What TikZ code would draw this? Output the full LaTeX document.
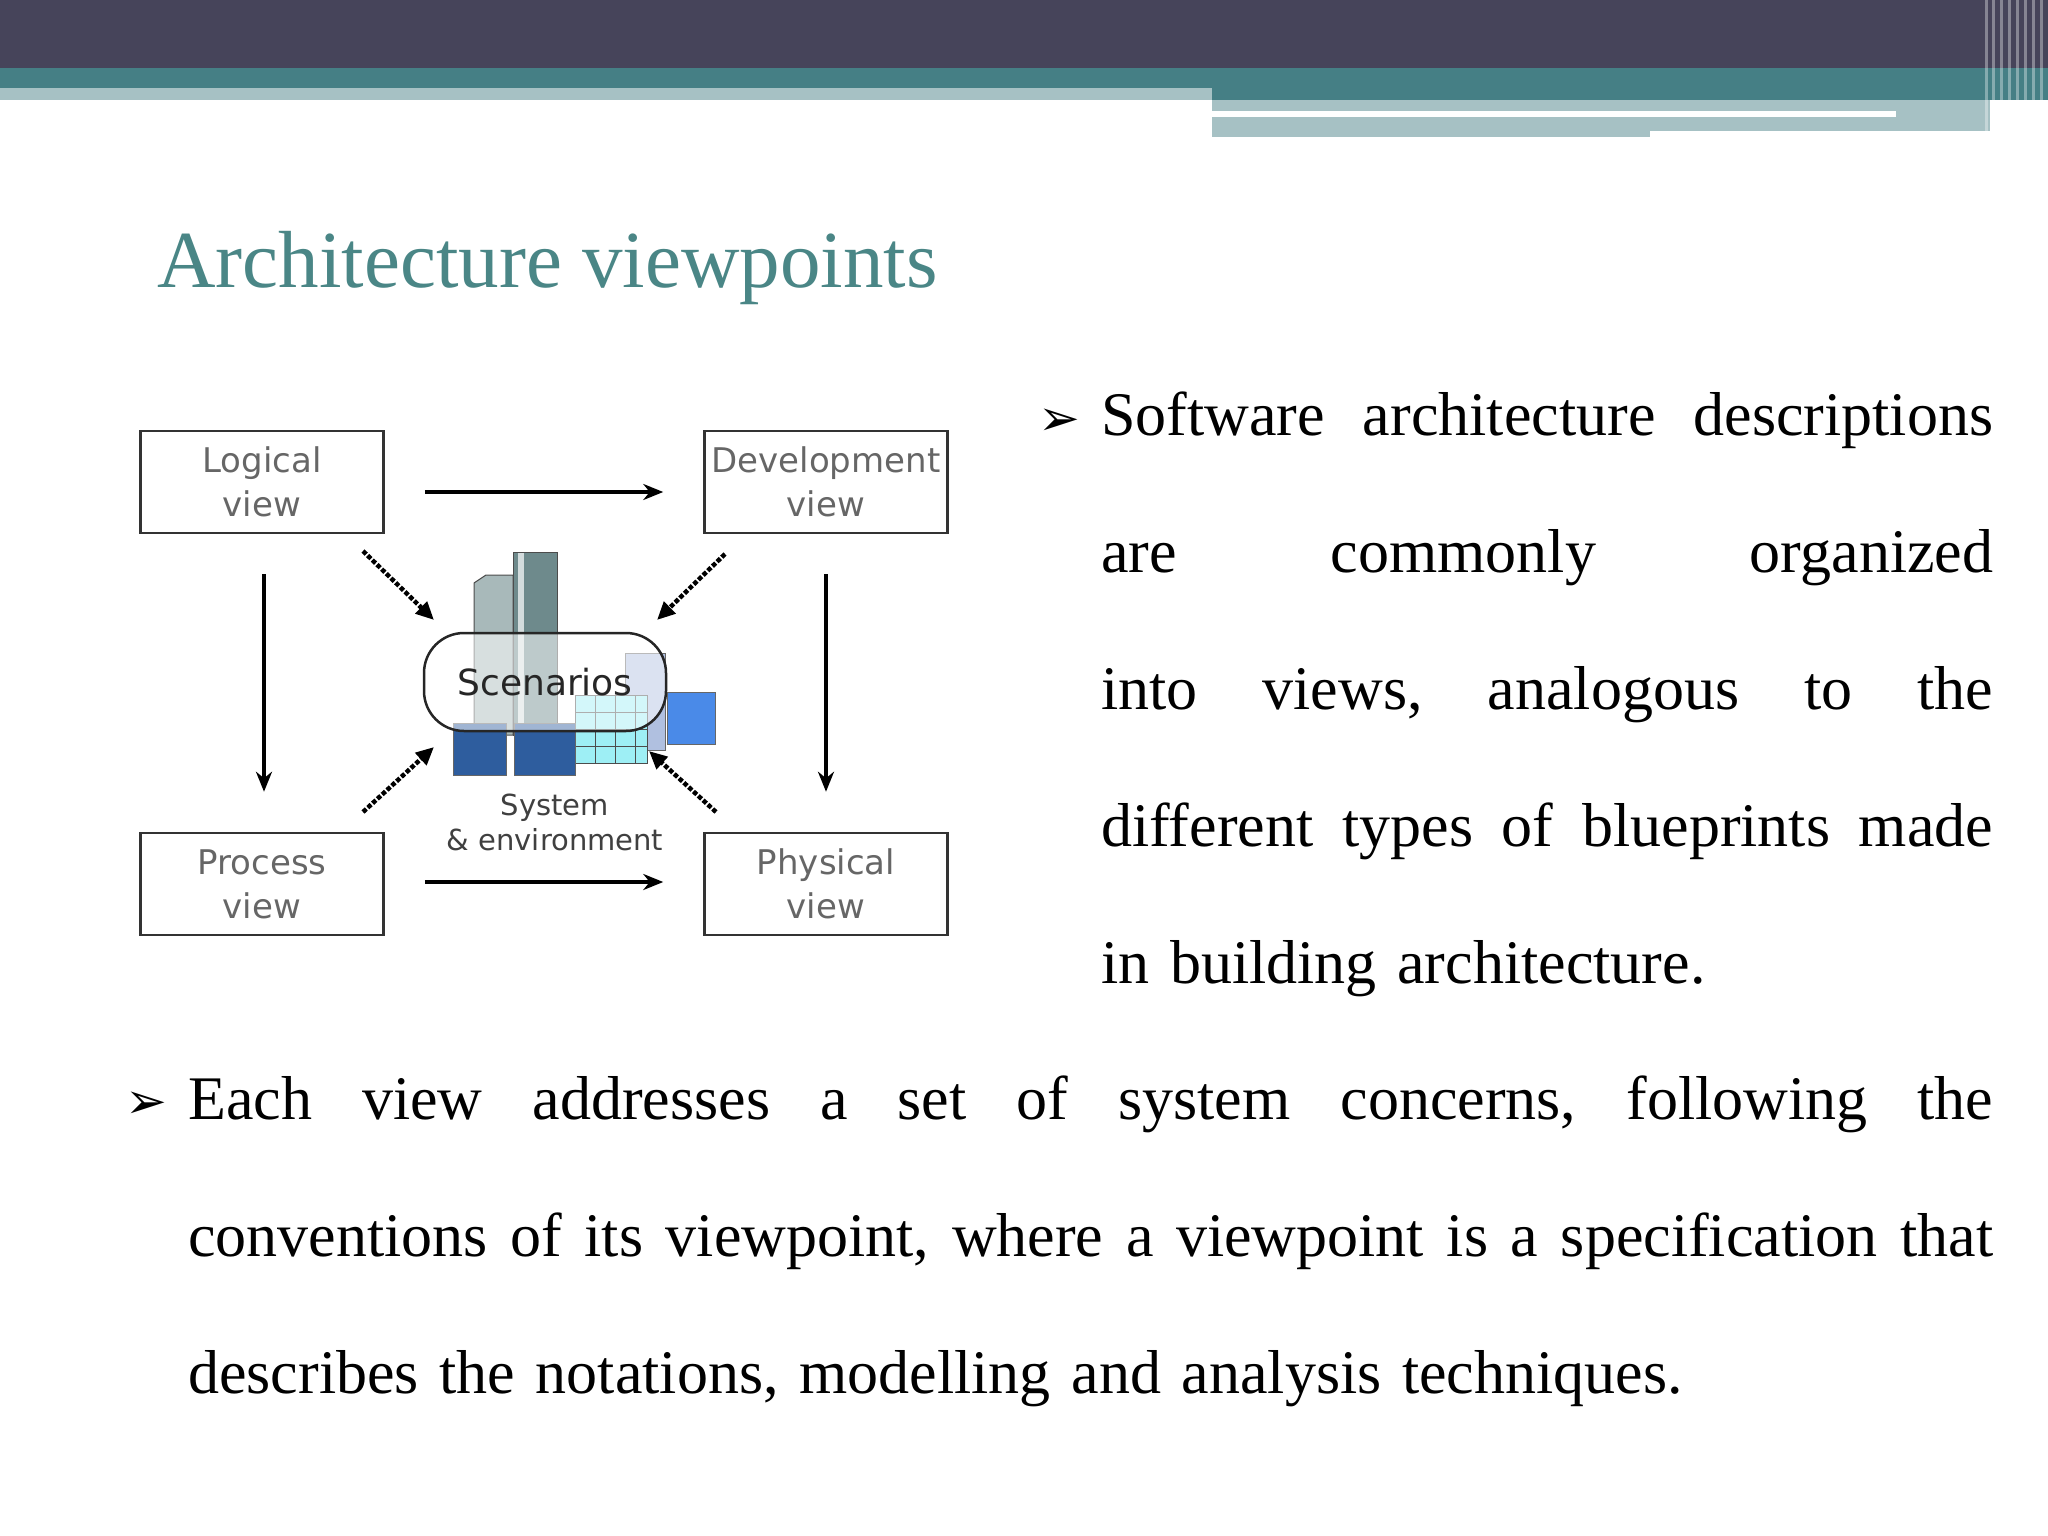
\documentclass[tikz,border=0pt]{standalone}
\usepackage{fontspec}
\setmainfont{Liberation Serif}
\newfontfamily\dejavu{DejaVu Sans}
\usetikzlibrary{arrows.meta}
\definecolor{barDark}{HTML}{46445A}
\definecolor{barTeal}{HTML}{457F85}
\definecolor{barLight}{HTML}{A6C1C4}
\definecolor{titleTeal}{HTML}{4A8686}
\definecolor{bldGray}{HTML}{6E8A8C}
\definecolor{bldDark}{HTML}{2E5D9E}
\definecolor{bldCyan}{HTML}{9EEFF5}
\definecolor{bldBlue}{HTML}{4A8AE8}
\definecolor{bldPale}{HTML}{B0C0E0}
\newcommand\jline[2]{\makebox[#1]{#2}}
\begin{document}
\begin{tikzpicture}[x=1pt,y=-1pt,
    view/.style={draw=black!80,line width=2.5pt,minimum width=243pt,minimum height=102pt,
      align=center,text=black!60,font=\dejavu\fontsize{34}{44}\selectfont,inner sep=0pt},
    flow/.style={line width=3.5pt,-{Stealth[length=20pt,width=16pt]}},
    dots/.style={line width=4.5pt,dotted,-{Triangle[length=18pt,width=16pt]}},
    bullet/.style={anchor=base west,inner sep=0pt,font=\dejavu\fontsize{50}{50}\selectfont},
    body/.style={anchor=north west,inner sep=0pt,font=\fontsize{62}{137}\selectfont}]
  \useasboundingbox (0,0) rectangle (2048,1536);
  % header bars
  \fill[barDark] (0,0) rectangle (2048,68);
  \fill[barTeal] (0,68) rectangle (2048,100);
  \fill[barLight] (0,88) rectangle (1212,100);
  \fill[barLight] (1212,100) rectangle (1990,137);
  \fill[white] (1212,111) rectangle (1896,117);
  \fill[white] (1650,131) rectangle (1990,137);
  \foreach \xs in {1985,1992,2000,2008,2016,2024,2032,2040}
    \fill[white,opacity=.35] (\xs,0) rectangle ++(3,137);
  % title
  \node[anchor=base west,inner sep=0pt,text=titleTeal,font=\fontsize{81}{88}\selectfont]
    (title) at (157,287) {Architecture viewpoints};
  % the four views
  \node[view] (logical) at (262,482) {Logical\\view};
  \node[view] (devel)   at (826,482) {Development\\view};
  \node[view] (process) at (262,884) {Process\\view};
  \node[view] (phys)    at (826,884) {Physical\\view};
  % system & environment buildings
  \fill[bldGray!60,draw=black!70,line width=1pt] (474,583) -- (486,575) -- (513,575) -- (513,735) -- (474,735) -- cycle;
  \fill[bldGray,draw=black!70,line width=1pt] (513,552) rectangle (557,735);
  \fill[bldGray!30] (518,553) rectangle (524,735);
  \fill[bldPale,draw=black!60] (625,653) rectangle (665,750);
  \fill[bldBlue,draw=black!60,line width=1pt] (667,692) rectangle (715,744);
  \fill[bldCyan,draw=black!70] (575,695) rectangle (647,763);
  \foreach \gx in {595,615,635} \draw[black!70] (\gx,695) -- (\gx,763);
  \foreach \gy in {712,729,746} \draw[black!70] (575,\gy) -- (647,\gy);
  \fill[bldDark,draw=black!60] (453,723) rectangle (506,775);
  \fill[bldDark,draw=black!60] (514,723) rectangle (575,775);
  \node[draw=black!85,line width=2.5pt,rounded corners=40pt,fill=white,fill opacity=.55,text opacity=1,
    minimum width=242pt,minimum height=98pt,font=\dejavu\fontsize{36}{40}\selectfont,text=black!85]
    (scen) at (545,682) {Scenarios};
  \node[align=center,text=black!75,font=\dejavu\fontsize{29}{35}\selectfont] (sysenv) at (555,822)
    {System\\\& environment};
  % connectors
  \coordinate (sTL) at (363,551); \coordinate (eTL) at (434,620);
  \coordinate (sTR) at (725,554); \coordinate (eTR) at (657,620);
  \coordinate (sBL) at (363,812); \coordinate (eBL) at (434,747);
  \coordinate (sBR) at (716,812); \coordinate (eBR) at (649,751);
  \path (logical.east) ++(40,10) coordinate (a1) (devel.west) ++(-40,10) coordinate (a2);
  \path (process.east) ++(40,-2) coordinate (b1) (phys.west) ++(-40,-2) coordinate (b2);
  \path (logical.south) ++(2,40) coordinate (c1) (process.north) ++(2,-40) coordinate (c2);
  \path (devel.south) ++(0,40) coordinate (d1) (phys.north) ++(0,-40) coordinate (d2);
  \draw[flow] (a1) -- (a2);
  \draw[flow] (b1) -- (b2);
  \draw[flow] (c1) -- (c2);
  \draw[flow] (d1) -- (d2);
  \draw[dots] (sTL) -- (eTL);
  \draw[dots] (sTR) -- (eTR);
  \draw[dots] (sBL) -- (eBL);
  \draw[dots] (sBR) -- (eBR);
  % bullet texts
  \node[bullet] (mark1) at (1038,435) {➢};
  \node[body,text width=892pt] (para1) at (1101,392) {\raggedright
    \jline{892pt}{Software\hfill architecture\hfill descriptions}\\
    \jline{892pt}{are\hfill commonly\hfill organized}\\
    \jline{892pt}{into\hfill views,\hfill analogous\hfill to\hfill the}\\
    \jline{892pt}{different\hfill types\hfill of\hfill blueprints\hfill made}\\
    in building architecture.};
  \node[bullet] (mark2) at (125,1118) {➢};
  \node[body,text width=1805pt] (para2) at (188,1076) {\raggedright
    \jline{1805pt}{Each\hfill view\hfill addresses\hfill a\hfill set\hfill of\hfill system\hfill concerns,\hfill following\hfill the}\\
    \jline{1805pt}{conventions\hfill of\hfill its\hfill viewpoint,\hfill where\hfill a\hfill viewpoint\hfill is\hfill a\hfill specification\hfill that}\\
    describes the notations, modelling and analysis techniques.};
\end{tikzpicture}
\end{document}
